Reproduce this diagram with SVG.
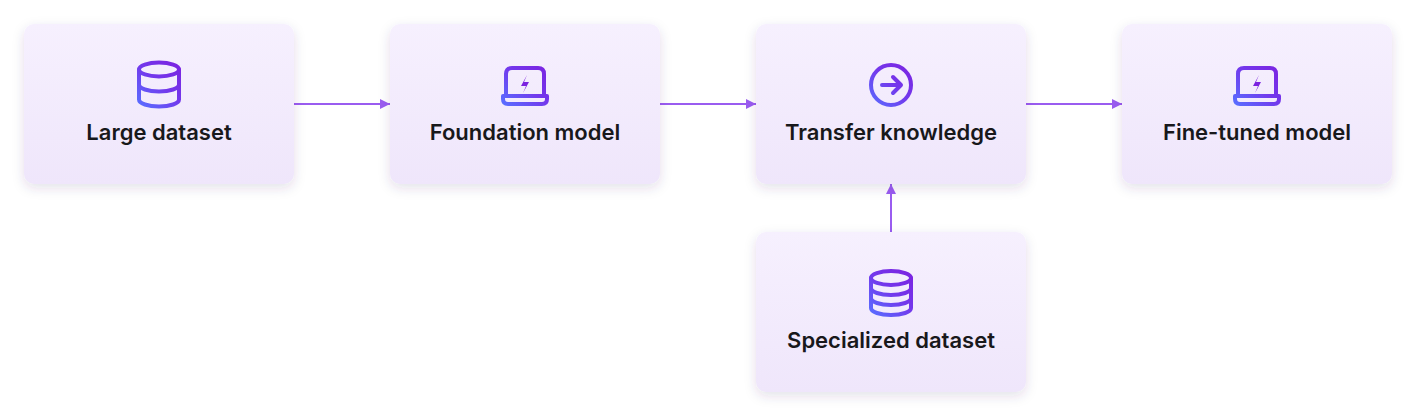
<svg xmlns="http://www.w3.org/2000/svg" width="1416" height="416" viewBox="0 0 1416 416">
<style>
.card{fill:url(#cardFill);filter:url(#shadow)}
.label{font-family:Inter,"Liberation Sans",sans-serif;font-size:22px;font-weight:600;fill:#18181b;text-anchor:middle}
.ic{fill:none;stroke-width:4;stroke-linecap:round;stroke-linejoin:round}
.conn{fill:none;stroke:#9a5cf0;stroke-width:2}
</style>
<defs>
<linearGradient id="cardFill" x1="0" y1="0" x2="0" y2="1"><stop offset="0" stop-color="#f6f0fe"/><stop offset="1" stop-color="#efe6fb"/></linearGradient>
<linearGradient id="a" gradientUnits="userSpaceOnUse" x1="-18" y1="22" x2="22" y2="-22"><stop offset="0" stop-color="#5a6cff"/><stop offset=".5" stop-color="#7338ec"/><stop offset="1" stop-color="#7c22e0"/></linearGradient>
<filter id="shadow" x="-15%" y="-15%" width="130%" height="140%"><feDropShadow dx="0" dy="4" stdDeviation="6" flood-color="#3b2a6b" flood-opacity=".14"/></filter>
<marker id="arrow" markerUnits="userSpaceOnUse" markerWidth="10" markerHeight="10" refX="10" refY="5" orient="auto"><path d="M0 0L10 5L0 10Z" fill="#9a5cf0"/></marker>
<g id="db"><ellipse cx="0" cy="-15" rx="20" ry="7"/><path d="M-20-15V15C-20 19 -11 22 0 22S20 19 20 15V-15"/><path d="M-20 0C-20 4 -11 7 0 7S20 4 20 0"/></g>
<g id="laptop"><path d="M-19 11V-11Q-19-17-13-17H13Q19-17 19-11V11"/><path d="M-22 11H22V14Q22 19 17 19H-17Q-22 19-22 14Z"/><path d="M2-10L-4 1H1L-2 8L4-3H-1Z" fill="#7c22e0" stroke="none"/></g>
</defs>
<g id="connectors">
<path class="conn" d="M294 104H390" marker-end="url(#arrow)"/>
<path class="conn" d="M660 104H756" marker-end="url(#arrow)"/>
<path class="conn" d="M1026 104H1122" marker-end="url(#arrow)"/>
<path class="conn" d="M891 232V184" marker-end="url(#arrow)"/>
</g>
<g id="node-large-dataset">
<rect class="card" x="24" y="24" width="270" height="160" rx="10"/>
<g transform="translate(159 84.500)"><use href="#db" class="ic" stroke="url(#a)"/></g>
<text class="label" x="159" y="140">Large dataset</text>
</g>
<g id="node-foundation-model">
<rect class="card" x="390" y="24" width="270" height="160" rx="10"/>
<g transform="translate(525 85)"><use href="#laptop" class="ic" stroke="url(#a)"/></g>
<text class="label" x="525" y="140">Foundation model</text>
</g>
<g id="node-transfer-knowledge">
<rect class="card" x="756" y="24" width="270" height="160" rx="10"/>
<g transform="translate(891 85)" class="ic" stroke="url(#a)"><circle r="20"/><path d="M-9 0H9M2-8L10 0L2 8"/></g>
<text class="label" x="891" y="140">Transfer knowledge</text>
</g>
<g id="node-fine-tuned-model">
<rect class="card" x="1122" y="24" width="270" height="160" rx="10"/>
<g transform="translate(1257 85)"><use href="#laptop" class="ic" stroke="url(#a)"/></g>
<text class="label" x="1257" y="140">Fine-tuned model</text>
</g>
<g id="node-specialized-dataset">
<rect class="card" x="756" y="232" width="270" height="160" rx="10"/>
<g transform="translate(891 293)" class="ic" stroke="url(#a)"><ellipse cy="-15" rx="20" ry="7"/><path d="M-20-15V15C-20 19-11 22 0 22S20 19 20 15V-15"/><path d="M-20-5C-20-1-11 2 0 2S20-1 20-5"/><path d="M-20 5C-20 9-11 12 0 12S20 9 20 5"/></g>
<text class="label" x="891" y="348">Specialized dataset</text>
</g>
</svg>
